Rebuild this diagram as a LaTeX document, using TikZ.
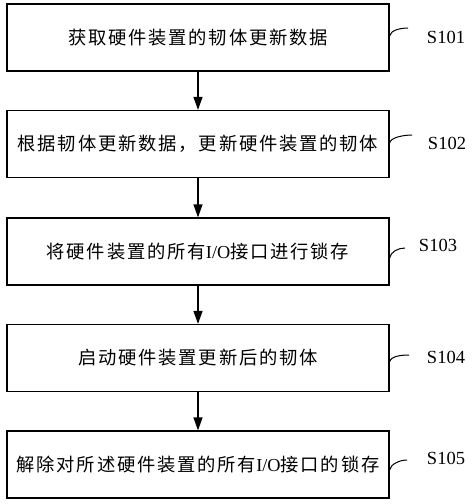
\documentclass[tikz,border=0pt]{standalone}
\usepackage{fontspec}
\setmainfont{Liberation Serif}
\newfontfamily\cjk[LetterSpace=10]{Noto Sans CJK SC}
\usepackage{tikz}
\usetikzlibrary{arrows.meta}

\begin{document}
\begin{tikzpicture}[x=1pt,y=-1pt,
    stepbox/.style={draw, line width=1.2pt, minimum width=382pt, minimum height=67pt,
                    inner sep=0pt, font=\fontsize{18.3}{20}\selectfont},
    flow/.style={-{Triangle[length=13pt,width=9pt]}, line width=1.2pt},
    lead/.style={line width=1pt},
    steplabel/.style={inner sep=0pt, font=\fontsize{18.5}{20}\selectfont}]

  \useasboundingbox (0,0) rectangle (474,504);

  % ================= the five steps =================
  \node[stepbox] (s1) at (198,37.5) {\cjk 获取硬件装置的韧体更新数据};
  \node[stepbox] (s2) at (198,144)  {\cjk 根据韧体更新数据，更新硬件装置的韧体};
  \node[stepbox] (s3) at (198,251.5){{\cjk 将硬件装置的所有}I/O{\cjk 接口进行锁存}};
  \node[stepbox] (s4) at (198,358)  {\cjk 启动硬件装置更新后的韧体};
  \node[stepbox] (s5) at (198,464.5){{\cjk 解除对所述硬件装置的所有}I/O{\cjk 接口的锁存}};

  % ---- arrows down the chain ----
  \foreach \a/\b in {s1/s2, s2/s3, s3/s4, s4/s5}{
    \draw[flow] (\a.south) -- (\b.north);}

  % ================= step numbers with their little hooks =================
  \foreach \i/\ys/\xe/\ye/\xl/\yl in {1/36/408/28/446/37, 2/143/412/135/447/143,
                                     3/258/405/248/438/245, 4/362/409/355/446/357,
                                     5/470/407/460/446/458}{
    \coordinate (h\i) at (\xe,\ye);
    \node[steplabel] (l\i) at (\xl,\yl) {S10\i};
    \draw[lead] (s\i.east |- 0,\ys) .. controls +(1,-6) and +(-7,0) .. (h\i);}
\end{tikzpicture}
\end{document}
